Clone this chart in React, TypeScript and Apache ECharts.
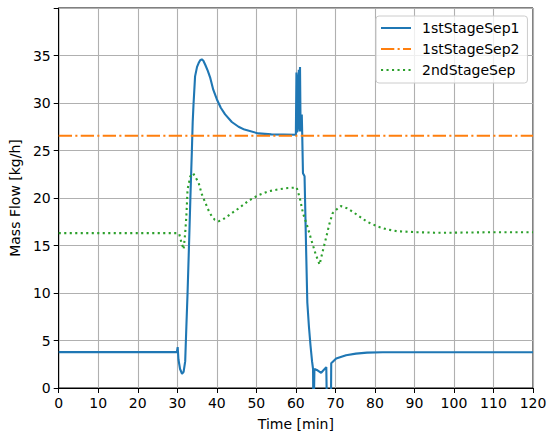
import { useEffect, useRef } from "react";
import * as echarts from "echarts";

const FONT = "DejaVu Sans";

const seriesNames = ["1stStageSep1", "1stStageSep2", "2ndStageSep"];
const seriesColors = ["#1f77b4", "#ff7f0e", "#2ca02c"];

const xTickLabels = [0, 10, 20, 30, 40, 50, 60, 70, 80, 90, 100, 110, 120];
const yTickLabels = [0, 5, 10, 15, 20, 25, 30, 35];

// [time in min, mass flow in kg/h]
const sep1Points: [number, number][] = [
  [0, 3.78], [29.9, 3.78], [30.1, 4.3], [30.3, 3.0], [30.7, 2.0], [31.2, 1.5],
  [31.6, 1.7], [32.0, 2.8], [32.3, 6.5], [32.6, 10.0], [33.0, 15.5], [33.3, 19.8],
  [33.7, 25.1], [33.9, 28.0], [34.1, 29.8], [34.5, 32.8], [35.0, 33.8], [35.4, 34.2],
  [35.8, 34.5], [36.2, 34.6], [36.6, 34.45], [37.1, 34.0], [37.7, 33.4], [38.3, 32.7],
  [39.1, 31.4], [40.0, 30.4], [41.0, 29.5], [42.1, 28.8], [43.8, 28.0], [45.5, 27.5],
  [47.0, 27.2], [50.5, 26.8], [53.8, 26.7], [60.0, 26.65],
  [60.15, 33.2], [60.3, 26.9], [60.45, 33.0], [60.6, 27.2], [60.75, 33.5], [60.9, 27.0],
  [61.05, 33.8], [61.2, 27.0], [61.5, 28.8], [61.6, 26.9], [61.8, 22.6], [62.2, 22.3],
  [62.6, 14.5], [62.9, 9.0], [63.3, 6.5], [63.7, 4.5], [64.1, 2.8], [64.35, 2.0],
  [64.4, -0.5], [64.6, -0.5], [64.7, 2.0], [65.3, 1.9], [66.4, 1.6], [67.7, 2.2],
  [67.8, -0.5], [68.9, -0.5], [68.95, 2.6], [70.2, 3.1], [72.7, 3.45], [75.2, 3.62],
  [78.0, 3.72], [82.0, 3.76], [120, 3.76],
];

const sep2Points: [number, number][] = [
  [0, 26.55], [120, 26.55],
];

const stage2Points: [number, number][] = [
  [0, 16.3], [30.0, 16.3], [30.5, 16.2], [31.0, 15.4], [31.6, 14.6], [32.0, 16.3],
  [32.3, 18.1], [32.6, 20.9], [33.3, 22.3], [34.0, 22.6], [34.6, 22.2], [35.4, 21.6],
  [36.2, 20.4], [37.1, 19.5], [37.9, 18.7], [38.7, 18.1], [39.5, 17.7], [40.4, 17.55],
  [41.2, 17.65], [42.1, 17.9], [43.8, 18.4], [45.5, 18.9], [48.0, 19.7], [50.5, 20.3],
  [53.0, 20.7], [55.5, 20.9], [58.0, 21.05], [60.2, 21.1], [61.0, 20.0], [61.8, 18.4],
  [63.0, 16.9], [63.9, 15.6], [65.0, 14.1], [66.0, 13.0], [66.8, 14.4], [67.7, 15.9],
  [68.5, 17.3], [69.3, 18.4], [70.6, 18.9], [71.4, 19.15], [73.1, 18.9], [75.6, 18.2],
  [78.0, 17.5], [80.7, 17.0], [83.0, 16.7], [85.7, 16.5], [90.7, 16.4], [95.0, 16.35],
  [100, 16.35], [110, 16.4], [120, 16.4],
];

const seriesPoints = [sep1Points, sep2Points, stage2Points];
const seriesDash: (string | number[])[] = ["solid", [13.3, 3.3, 2.1, 3.3], [2.1, 3.4]];

export default function App() {
  const chartRef = useRef<HTMLDivElement>(null);

  useEffect(() => {
    if (!chartRef.current) return;
    const chart = echarts.init(chartRef.current, null, { renderer: "svg" });

    const axisCommon = {
      axisLine: { show: true, onZero: false, lineStyle: { color: "#000", width: 1 } },
      axisTick: { show: true, inside: false, length: 5, lineStyle: { color: "#000", width: 1 } },
      splitLine: { show: true, lineStyle: { color: "#b0b0b0", width: 1.1 } },
      nameTextStyle: { fontFamily: FONT, fontSize: 14, color: "#000" },
    };

    chart.setOption({
      animation: false,
      backgroundColor: "#fff",
      textStyle: { fontFamily: FONT },
      grid: {
        left: 56,
        right: 17,
        top: 8,
        bottom: 48,
        show: true,
        borderColor: "#000",
        borderWidth: 1,
        backgroundColor: "transparent",
      },
      legend: {
        orient: "vertical",
        left: 376,
        top: 16,
        padding: [5, 8, 6, 4],
        itemWidth: 30,
        itemHeight: 14,
        itemGap: 7,
        itemStyle: { opacity: 0 },
        backgroundColor: "rgba(255,255,255,0.8)",
        borderColor: "#cccccc",
        borderWidth: 1,
        borderRadius: 3,
        textStyle: { fontFamily: FONT, fontSize: 14, color: "#000", padding: [0, 0, 0, 6] },
        data: seriesNames,
      },
      xAxis: {
        ...axisCommon,
        type: "value",
        min: xTickLabels[0],
        max: xTickLabels[xTickLabels.length - 1],
        interval: 10,
        name: "Time [min]",
        nameLocation: "middle",
        nameGap: 29,
        axisLabel: {
          fontFamily: FONT,
          fontSize: 14,
          color: "#000",
          margin: 8,
          showMinLabel: true,
          showMaxLabel: true,
        },
      },
      yAxis: {
        ...axisCommon,
        type: "value",
        min: 0,
        max: 40,
        interval: 5,
        name: "Mass Flow [kg/h]",
        nameLocation: "middle",
        nameGap: 32,
        axisLabel: {
          fontFamily: FONT,
          fontSize: 14,
          color: "#000",
          margin: 8,
          formatter: (v: number) => (yTickLabels.includes(v) ? String(v) : ""),
        },
      },
      series: seriesNames.map((name, i) => ({
        name,
        type: "line",
        symbol: "none",
        data: seriesPoints[i],
        color: seriesColors[i],
        lineStyle: { color: seriesColors[i], width: 2.1, type: seriesDash[i] },
        z: 2 + i,
      })),
    });

    return () => chart.dispose();
  }, []);

  return (
    <div
      ref={chartRef}
      style={{ position: "absolute", left: 0, top: 0, width: 550, height: 436 }}
    />
  );
}
